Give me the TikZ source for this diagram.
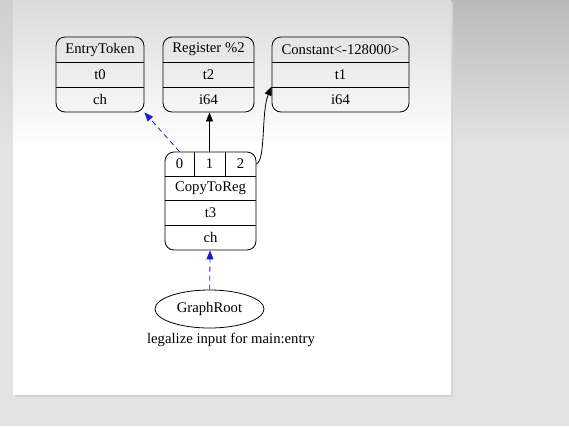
\documentclass[tikz,border=0pt]{standalone}
\usepackage{fontspec}
\setmainfont{Liberation Serif}
\usetikzlibrary{arrows.meta,shapes.geometric}
\definecolor{bggray}{HTML}{E3E3E3}
\definecolor{edgeblue}{HTML}{1A1AD0}
\begin{document}
\begin{tikzpicture}[x=1pt,y=-1pt,
	every node/.style={font=\fontsize{14.7}{17}\selectfont},
	rec/.style={draw,thick,rounded corners=9pt,inner sep=0pt,minimum width=#1},
	rec/.default=90pt,
	chain/.style={edgeblue,thick,dash pattern=on 5pt off 4pt,-{Triangle[length=9pt,width=7pt]}},
	val/.style={black,thick,-{Triangle[length=9pt,width=7pt]}}]
		\useasboundingbox (0,0) rectangle (569,426);
		% background and panel
		\fill[bggray] (0,0) rectangle (569,426);
		\shade[top color=black!27,bottom color=bggray] (451,0) rectangle (569,145);
		\shade[top color=black!19,bottom color=bggray] (0,0) rectangle (13,145);
		\fill[black!17] (15,2) rectangle (453,397);
		\fill[white] (13,0) rectangle (451,395);
		\shade[top color=black!14,bottom color=white] (13,0) rectangle (451,147);
		% records
		\node[rec=88pt,minimum height=75pt] (et) at (100,74.5) {};
		\node[rec=91pt,minimum height=75pt] (reg) at (208.5,74.5) {};
		\node[rec=137pt,minimum height=75pt] (cst) at (340.5,74.5) {};
		\node[rec=91pt,minimum height=98pt] (copy) at (210.5,201) {};
		\foreach \n in {et,reg,cst}
		\draw[thick] (\n.west |- 0,62) -- (\n.east |- 0,62) (\n.west |- 0,87) -- (\n.east |- 0,87);
		\draw[thick] (copy.west |- 0,176) -- (copy.east |- 0,176)
			(copy.west |- 0,200) -- (copy.east |- 0,200)
			(copy.west |- 0,225) -- (copy.east |- 0,225)
			(194,152) -- (194,176) (225,152) -- (225,176);
		% texts
		\node (etname) at (100,49.5) {EntryToken};
		\node (ett) at (100,74.5) {t0};
		\node (etch) at (100,99.5) {ch};
		\node (regname) at (208.5,49.5) {Register \%2};
		\node (regt) at (208.5,74.5) {t2};
		\node (regty) at (208.5,99.5) {i64};
		\node (cstname) at (340.5,49.5) {Constant<-128000>};
		\node (cstt) at (340.5,74.5) {t1};
		\node (cstty) at (340.5,99.5) {i64};
		\node (p0) at (179.5,164) {0};
		\node (p1) at (209.5,164) {1};
		\node (p2) at (240.5,164) {2};
		\node (copyname) at (210.5,188) {CopyToReg};
		\node (copyt) at (210.5,212.5) {t3};
		\node (copych) at (210.5,237.5) {ch};
		\node[draw,thick,ellipse,minimum width=109pt,minimum height=38pt,inner sep=0pt] (root) at (209.5,309) {GraphRoot};
		\node (title) at (231,340) {legalize input for main:entry};
		% edges
		\draw[chain] (p0.north |- copy.north) -- (et.south east);
		\draw[val] (p1.north |- copy.north) -- (reg.south -| p1.north);
		\draw[val] (copy.east |- p2) .. controls (266,160) and (261,112) .. ([yshift=-12pt]cst.west);
		\draw[chain] (root) -- (copy);
\end{tikzpicture}
\end{document}
